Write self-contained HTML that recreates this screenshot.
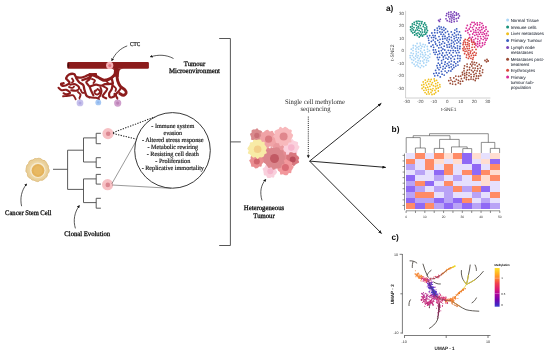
<!DOCTYPE html>
<html><head><meta charset="utf-8"><title>Figure</title>
<style>
html,body{margin:0;padding:0;background:#fff}
svg{display:block;text-rendering:geometricPrecision}
</style></head><body>
<svg width="550" height="356" viewBox="0 0 550 356">
<defs>
<marker id="ah" viewBox="0 0 10 10" refX="9.5" refY="5" markerUnits="userSpaceOnUse" markerWidth="3.6" markerHeight="3" preserveAspectRatio="none" orient="auto-start-reverse"><path d="M0 0L10 5L0 10z" fill="#111"/></marker>
<marker id="ahs" viewBox="0 0 10 10" refX="7" refY="5" markerWidth="4.2" markerHeight="4.2" orient="auto-start-reverse"><path d="M0 0L10 5L0 10z" fill="#111"/></marker>
<linearGradient id="cb" x1="0" y1="0" x2="0" y2="1">
<stop offset="0" stop-color="#ffe32e"/><stop offset="0.14" stop-color="#ffb422"/><stop offset="0.27" stop-color="#ff7e30"/><stop offset="0.4" stop-color="#f0404e"/><stop offset="0.55" stop-color="#dc1a72"/><stop offset="0.67" stop-color="#b0059c"/><stop offset="0.82" stop-color="#7204b0"/><stop offset="0.94" stop-color="#4524c2"/><stop offset="1" stop-color="#4040cc"/>
</linearGradient>
</defs>
<rect width="550" height="356" fill="#fff"/>

<g id="vessel">
<g fill="none" stroke="#8c1c1c" stroke-linecap="round" stroke-linejoin="round">
<path stroke-width="4.2" d="M116.3 68.5C116.3 68.8 116.3 69.8 116.2 70.5C116.1 71.2 115.9 72.2 115.8 72.5"/>
<path stroke-width="3.0" d="M116.2 70.0C116.0 70.6 115.8 72.4 115.3 73.5C114.8 74.6 113.8 75.7 113.0 76.5C112.2 77.3 111.3 78.0 110.2 78.6C109.1 79.2 107.7 79.8 106.5 80.0C105.3 80.2 104.4 80.5 103.0 80.0C101.6 79.5 99.5 78.1 98.0 77.3C96.5 76.5 95.3 75.8 94.0 75.3C92.7 74.8 90.7 74.7 90.0 74.6"/>
<path stroke-width="2.9" d="M116.8 72.0C116.8 72.7 116.8 74.5 117.0 76.0C117.2 77.5 117.2 79.5 117.8 81.2C118.3 82.9 119.1 84.8 120.3 86.2C121.5 87.6 123.8 88.6 124.8 89.7C125.8 90.8 126.5 91.9 126.2 92.8C126.0 93.7 124.4 95.2 123.3 95.3C122.2 95.4 120.4 93.9 119.8 93.6"/>
<path stroke-width="2.2" d="M121.0 88.0C120.6 88.6 119.4 90.4 118.5 91.5C117.6 92.6 116.0 93.4 115.8 94.5C115.6 95.6 117.0 97.7 117.3 98.3"/>
<path stroke-width="2.3" d="M111.7 78.6C111.9 79.4 112.9 82.3 112.7 83.2C112.5 84.1 112.0 83.7 110.7 83.9C109.5 84.1 106.8 83.9 105.2 84.2C103.6 84.5 102.5 85.6 101.0 85.7C99.5 85.8 97.7 84.6 96.0 84.7C94.3 84.8 91.8 86.0 91.0 86.2"/>
<path stroke-width="2.2" d="M112.7 83.2C112.5 84.2 112.3 87.5 111.7 89.2C111.1 90.9 109.5 92.0 109.2 93.3C109.0 94.6 109.4 96.8 110.2 97.3C111.0 97.8 113.5 96.9 114.2 96.3C114.9 95.7 114.5 94.2 114.6 93.8"/>
<path stroke-width="2.1" d="M103.1 86.2C103.8 86.6 106.8 87.7 107.2 88.7C107.6 89.7 106.0 91.0 105.2 92.3C104.4 93.6 102.4 95.3 102.6 96.3C102.8 97.3 105.6 98.0 106.2 98.3"/>
<path stroke-width="2.0" d="M97.5 89.0C97.9 89.3 99.8 90.2 100.0 91.0C100.2 91.8 99.2 93.5 98.5 94.0C97.8 94.5 96.2 94.4 95.5 94.0C94.8 93.6 94.5 92.1 94.6 91.5C94.7 90.9 95.9 90.5 96.2 90.3"/>
<path stroke-width="2.0" d="M90.0 97.3C91.0 97.4 94.5 97.5 96.0 97.8C97.5 98.1 98.5 99.0 99.0 99.3"/>
<path stroke-width="2.0" d="M100.5 87.5C100.7 88.1 101.5 89.7 101.5 91.0C101.5 92.3 100.8 94.4 100.3 95.5C99.8 96.6 98.8 97.2 98.5 97.5"/>
<path stroke-width="2.3" d="M96.0 74.1C94.9 74.2 91.1 74.2 89.3 74.6C87.5 75.0 86.3 76.0 85.0 76.5C83.7 77.0 82.8 77.5 81.3 77.6C79.8 77.7 77.4 77.7 76.2 77.1C75.0 76.5 75.4 74.5 74.2 74.1C73.0 73.7 70.4 73.9 69.1 74.6C67.8 75.3 66.4 77.3 66.1 78.1C65.8 78.9 66.5 78.8 67.1 79.6C67.7 80.4 69.8 81.8 69.6 82.7C69.4 83.6 67.3 84.7 66.1 85.2C64.8 85.7 62.9 86.0 62.1 85.7C61.3 85.5 60.9 84.1 61.1 83.7C61.4 83.3 63.2 83.3 63.6 83.2"/>
<path stroke-width="2.0" d="M58.5 87.7C59.0 88.1 60.3 89.9 61.6 90.2C62.9 90.5 64.7 89.3 66.1 89.7C67.5 90.1 70.1 92.0 70.1 92.8C70.1 93.6 67.2 94.2 66.1 94.3C65.0 94.4 63.9 93.4 63.5 93.2"/>
<path stroke-width="1.9" d="M63.1 96.3C63.9 96.2 66.4 96.0 68.1 95.8C69.8 95.6 71.9 94.7 73.2 95.3C74.5 95.9 75.3 98.6 75.7 99.3"/>
<path stroke-width="2.1" d="M70.1 84.7C70.9 84.6 73.7 83.7 75.2 84.2C76.7 84.7 79.0 86.6 79.2 87.7C79.4 88.8 77.5 90.3 76.2 90.7C74.9 91.1 72.0 90.3 71.2 90.2"/>
<path stroke-width="2.3" d="M76.2 78.1C76.7 78.8 78.0 81.0 79.2 82.2C80.4 83.4 82.5 84.0 83.3 85.2C84.1 86.4 83.8 87.5 84.3 89.2C84.8 90.9 85.5 94.0 86.3 95.3C87.1 96.6 88.8 97.0 89.3 97.3"/>
<path stroke-width="2.2" d="M82.3 80.1C83.3 79.8 86.9 78.8 88.3 78.1C89.7 77.4 90.6 75.8 90.8 76.1C91.0 76.3 90.0 78.6 89.3 79.6C88.5 80.6 86.3 81.1 86.3 82.2C86.3 83.3 88.4 84.7 89.3 86.2C90.2 87.7 90.7 89.8 91.4 91.3C92.1 92.8 93.1 94.6 93.4 95.3"/>
<path stroke-width="1.9" d="M78.0 92.0C78.4 92.4 80.2 93.5 80.5 94.5C80.8 95.5 79.7 97.4 79.5 98.0"/>
<path stroke-width="1.8" d="M72.0 78.5C72.2 78.9 73.5 80.3 73.5 81.0C73.5 81.7 72.2 82.2 72.0 82.5"/>
<path stroke-width="1.9" d="M92.0 79.0C92.5 79.2 94.8 79.8 95.0 80.5C95.2 81.2 93.8 82.6 93.5 83.0"/>
<path stroke-width="1.9" d="M106.0 80.5C106.3 80.9 107.7 82.6 108.0 83.0"/>
<path stroke-width="1.8" d="M69.0 87.0C69.6 87.1 71.7 87.9 72.5 87.8C73.3 87.7 73.8 86.7 74.0 86.5"/>
<path stroke-width="1.8" d="M80.5 89.5C80.8 90.0 81.4 91.9 82.0 92.5C82.6 93.1 83.7 92.9 84.0 93.0"/>
<path stroke-width="1.8" d="M113.5 86.0C113.9 86.4 115.7 87.7 116.0 88.5C116.3 89.3 115.6 90.6 115.5 91.0"/>
<path stroke-width="1.0" d="M79.5 98.0C79.6 98.4 79.8 100.1 79.9 100.5"/>
<path stroke-width="1.0" d="M98.8 98.5C98.8 98.8 98.6 99.9 98.6 100.2"/>
<path stroke-width="1.0" d="M117.3 97.5C117.4 98.0 117.6 100.0 117.7 100.5"/>
</g>
<rect x="67.3" y="61.9" width="81.6" height="6.8" rx="1.2" fill="#8c1c1c"/>
<path d="M110.5 68.5 C113.2 68.7 114.6 70 114.3 72.2 L113.2 76.5 L118.6 77 L119.2 72 C119.3 70 120.8 68.8 123.5 68.5 Z" fill="#8c1c1c"/>
<ellipse cx="68.3" cy="65.35" rx="0.9" ry="2.6" fill="#4a0c0c"/>
<circle cx="109.7" cy="65.4" r="3.6" fill="#f7b3b8"/><circle cx="109.8" cy="65.6" r="1.6" fill="#e27b86"/>
<circle cx="80" cy="102.9" r="3.4" fill="#c6c0ec"/><circle cx="80" cy="102.9" r="1.5" fill="#aea6e0"/>
<circle cx="98.3" cy="102.4" r="2.9" fill="#a6c8f4"/><circle cx="98.3" cy="102.4" r="1.2" fill="#8fb6ed"/>
<circle cx="117.7" cy="103.1" r="3.6" fill="#d0a0cd"/><circle cx="117.7" cy="103.1" r="1.6" fill="#bd83b8"/>
</g>
<text x="135.2" y="46" font-family='"Liberation Serif",serif' font-size="5.9" font-weight="normal" text-anchor="middle" fill="#111" textLength="10.2" lengthAdjust="spacingAndGlyphs" stroke="#111" stroke-width="0.2">CTC</text>
<path d="M127.2 45.9 C120.5 48.3 115 53.5 111.9 60.5" fill="none" stroke="#111" stroke-width="0.7" marker-end="url(#ahs)"/>
<text x="194.5" y="65.5" font-family='"Liberation Serif",serif' font-size="7" font-weight="normal" text-anchor="middle" fill="#111" textLength="21.4" lengthAdjust="spacingAndGlyphs" stroke="#111" stroke-width="0.3">Tumour</text>
<text x="194.5" y="73.2" font-family='"Liberation Serif",serif' font-size="7" font-weight="normal" text-anchor="middle" fill="#111" textLength="51" lengthAdjust="spacingAndGlyphs" stroke="#111" stroke-width="0.3">Microenvironment</text>
<path d="M173.5 58.5 C166 54.5 158 54.5 150.6 56.8" fill="none" stroke="#111" stroke-width="0.7" marker-end="url(#ahs)"/>
<g id="stem">
<polygon points="49.14,169.80 49.20,170.82 48.97,171.82 48.51,172.75 47.79,173.55 47.34,174.39 47.32,175.47 47.03,176.47 46.24,177.14 45.49,177.79 44.84,178.55 44.07,179.18 43.25,179.75 42.37,180.24 41.32,180.28 40.29,180.20 39.42,180.71 38.52,181.41 37.50,181.57 36.49,181.35 35.52,181.04 34.62,180.55 33.72,180.18 32.69,180.12 31.75,179.76 31.10,178.95 30.38,178.29 29.40,177.90 28.56,177.30 27.95,176.49 27.50,175.58 27.40,174.51 27.39,173.48 26.84,172.66 26.08,171.81 25.90,170.82 26.07,169.80 26.15,168.81 26.32,167.83 26.57,166.87 26.71,165.87 27.16,164.98 28.00,164.32 28.58,163.55 28.75,162.46 29.17,161.47 29.97,160.83 30.88,160.34 31.89,160.08 32.89,159.91 33.70,159.36 34.51,158.66 35.51,158.52 36.53,158.66 37.50,158.49 38.51,158.30 39.51,158.39 40.50,158.61 41.39,159.10 42.10,159.93 42.90,160.44 44.02,160.49 45.05,160.80 45.72,161.58 46.28,162.43 46.79,163.30 47.17,164.21 47.73,165.03 48.31,165.86 48.38,166.88 48.27,167.90 48.64,168.83" fill="#e9cf98" stroke="#dbb874" stroke-width="0.9"/>
<circle cx="37.6" cy="170.1" r="9.3" fill="#ecd5a2"/>
<circle cx="37.8" cy="170.3" r="7.8" fill="#f5e9cd"/>
<circle cx="38" cy="170.5" r="6.4" fill="#e4b25a"/>
<circle cx="38" cy="170.5" r="4.4" fill="#e8b963"/>
</g>
<text x="28.2" y="215.2" font-family='"Liberation Serif",serif' font-size="7" font-weight="normal" text-anchor="middle" fill="#111" textLength="46.2" lengthAdjust="spacingAndGlyphs" stroke="#111" stroke-width="0.3">Cancer Stem Cell</text>
<path d="M21.6 206.2 C19.8 198 21.6 190.5 26.4 184.2" fill="none" stroke="#111" stroke-width="0.7" marker-end="url(#ahs)"/>
<text x="87.2" y="235.9" font-family='"Liberation Serif",serif' font-size="7" font-weight="normal" text-anchor="middle" fill="#111" textLength="45.7" lengthAdjust="spacingAndGlyphs" stroke="#111" stroke-width="0.3">Clonal Evolution</text>
<path d="M75.4 228.4 C73 220.5 74.4 212.5 79.2 205.8" fill="none" stroke="#111" stroke-width="0.7" marker-end="url(#ahs)"/>
<path id="tree" fill="none" stroke="#4a4a4a" stroke-width="0.9" d="M53 169.3H67.6 M67.6 150.2V189.4 M67.6 150.2H83.5 M83.5 137.9V162 M83.5 137.9H96.2 M96.2 133.3V143.7 M96.2 133.3H100.9 M96.2 143.7H100.9 M83.5 162H96.2 M96.2 157.7V167.6 M96.2 157.7H100.9 M96.2 167.6H100.9 M67.6 189.4H83.5 M83.5 178.9V202.6 M83.5 178.9H96.2 M96.2 174.4V184.1 M96.2 174.4H100.9 M96.2 184.1H100.9 M83.5 202.6H96.2 M96.2 198.3V208.2 M96.2 198.3H100.9 M96.2 208.2H100.9"/>
<circle cx="108" cy="133.6" r="5.6" fill="#f7c0c4"/><circle cx="108.2" cy="133.79999999999998" r="2.3" fill="#db8690"/>
<circle cx="107.6" cy="184.7" r="5.6" fill="#f7c0c4"/><circle cx="107.8" cy="184.89999999999998" r="2.3" fill="#db8690"/>
<path d="M113 132.6 L154.8 116.9 M113 133.5 L136.4 139.1" fill="none" stroke="#222" stroke-width="1.05" stroke-dasharray="1.3 1.3"/>
<path d="M111.8 183.8 L136.4 140.6 M112.1 185 L171 188.3" fill="none" stroke="#555" stroke-width="0.6"/>
<circle cx="172.5" cy="150.4" r="37.8" fill="#fff" stroke="#222" stroke-width="0.9"/>
<text x="172.8" y="127.8" font-family='"Liberation Serif",serif' font-size="6.5" font-weight="normal" text-anchor="middle" fill="#222" textLength="42.9" lengthAdjust="spacingAndGlyphs" stroke="#222" stroke-width="0.2">- Immune system</text>
<text x="172.8" y="135.1" font-family='"Liberation Serif",serif' font-size="6.5" font-weight="normal" text-anchor="middle" fill="#222" textLength="18.6" lengthAdjust="spacingAndGlyphs" stroke="#222" stroke-width="0.2">evasion</text>
<text x="172.8" y="141.7" font-family='"Liberation Serif",serif' font-size="6.5" font-weight="normal" text-anchor="middle" fill="#222" textLength="61.7" lengthAdjust="spacingAndGlyphs" stroke="#222" stroke-width="0.2">- Altered stress response</text>
<text x="172.8" y="148.79999999999998" font-family='"Liberation Serif",serif' font-size="6.5" font-weight="normal" text-anchor="middle" fill="#222" textLength="50.5" lengthAdjust="spacingAndGlyphs" stroke="#222" stroke-width="0.2">- Metabolic rewiring</text>
<text x="172.8" y="155.6" font-family='"Liberation Serif",serif' font-size="6.5" font-weight="normal" text-anchor="middle" fill="#222" textLength="52.3" lengthAdjust="spacingAndGlyphs" stroke="#222" stroke-width="0.2">- Resisting cell death</text>
<text x="172.8" y="162.7" font-family='"Liberation Serif",serif' font-size="6.5" font-weight="normal" text-anchor="middle" fill="#222" textLength="35" lengthAdjust="spacingAndGlyphs" stroke="#222" stroke-width="0.2">- Proliferation</text>
<text x="172.8" y="169.7" font-family='"Liberation Serif",serif' font-size="6.5" font-weight="normal" text-anchor="middle" fill="#222" textLength="62.3" lengthAdjust="spacingAndGlyphs" stroke="#222" stroke-width="0.2">- Replicative immortality</text>
<path d="M219.2 38.5H230.4V245.5H219.2 M230.4 141.9H240.8" fill="none" stroke="#444" stroke-width="0.9"/>
<g id="tumour">
<polygon points="289.91,148.50 289.49,149.45 288.87,150.28 288.51,151.10 288.11,151.89 287.55,152.57 287.20,153.37 287.05,154.40 286.50,155.17 285.38,155.21 284.27,155.03 283.62,155.50 283.11,156.52 282.35,157.18 281.41,157.19 280.50,157.08 279.60,157.05 278.74,156.76 277.96,156.31 277.05,156.25 275.88,156.50 274.91,156.19 274.59,155.06 274.55,153.86 274.05,153.19 273.16,152.74 272.55,152.04 272.35,151.15 272.19,150.27 272.10,149.38 272.45,148.50 272.92,147.70 272.76,146.85 272.12,145.78 272.06,144.74 272.92,144.12 273.92,143.72 274.43,143.03 274.73,142.10 275.30,141.35 276.05,140.79 276.81,140.20 277.70,139.87 278.74,140.20 279.68,140.72 280.50,140.53 281.41,139.80 282.39,139.62 283.15,140.36 283.73,141.25 284.44,141.68 285.25,141.96 285.98,142.42 286.74,142.88 287.69,143.28 288.37,143.96 288.31,145.02 288.04,146.05 288.46,146.81 289.44,147.56" fill="#ea999e"/>
<circle cx="280.8" cy="148.8" r="3.83" fill="#ea999e"/>
<polygon points="273.35,155.00 273.72,155.81 273.47,156.59 273.01,157.28 272.66,157.97 272.20,158.58 271.58,159.06 271.21,159.69 271.14,160.71 270.82,161.64 269.95,161.85 268.94,161.60 268.19,161.75 267.58,162.41 266.83,162.91 266.00,162.94 265.18,162.82 264.37,162.67 263.68,162.14 263.16,161.38 262.53,161.00 261.56,161.11 260.64,160.96 260.30,160.13 260.35,159.10 260.11,158.40 259.48,157.90 258.94,157.29 258.63,156.57 258.28,155.81 258.03,155.00 258.36,154.20 259.02,153.52 259.22,152.80 258.85,151.82 258.76,150.82 259.46,150.25 260.45,150.01 261.17,149.64 261.71,149.10 262.35,148.68 263.03,148.32 263.65,147.77 264.37,147.35 265.22,147.62 266.00,148.26 266.70,148.35 267.54,147.77 268.47,147.41 269.21,147.79 269.77,148.47 270.39,148.96 271.02,149.42 271.52,150.03 272.08,150.58 272.93,151.00 273.60,151.62 273.49,152.57 272.91,153.53 272.82,154.28" fill="#e3868d"/>
<circle cx="266.3" cy="155.3" r="3.38" fill="#e3868d"/>
<polygon points="289.76,158.50 290.22,159.26 290.10,160.01 289.61,160.65 289.20,161.26 288.81,161.86 288.25,162.32 287.79,162.82 287.64,163.66 287.43,164.60 286.73,164.97 285.78,164.75 285.02,164.71 284.44,165.25 283.77,165.85 283.00,165.97 282.23,165.83 281.47,165.68 280.79,165.31 280.28,164.62 279.76,164.12 278.93,164.10 278.00,164.05 277.55,163.41 277.61,162.42 277.55,161.65 277.03,161.16 276.46,160.62 276.16,159.95 275.92,159.24 275.67,158.50 275.82,157.74 276.40,157.10 276.76,156.47 276.51,155.61 276.28,154.62 276.76,153.97 277.70,153.73 278.47,153.47 278.99,152.98 279.55,152.52 280.20,152.22 280.82,151.80 281.48,151.37 282.26,151.46 283.00,152.07 283.64,152.39 284.38,151.99 285.27,151.53 286.01,151.73 286.53,152.39 287.04,152.94 287.65,153.33 288.17,153.85 288.64,154.40 289.35,154.83 290.08,155.35 290.18,156.17 289.67,157.08 289.38,157.83" fill="#e48c92"/>
<circle cx="283.3" cy="158.8" r="3.15" fill="#e48c92"/>
<polygon points="263.45,135.10 263.33,135.82 262.82,136.44 262.37,137.01 262.03,137.56 261.62,138.06 261.23,138.53 261.04,139.19 260.90,139.99 260.43,140.51 259.59,140.46 258.75,140.16 258.17,140.24 257.71,140.80 257.16,141.35 256.50,141.56 255.82,141.56 255.14,141.51 254.51,141.23 254.04,140.63 253.63,140.08 252.98,139.95 252.06,140.03 251.29,139.80 251.05,139.06 251.18,138.17 251.20,137.46 250.98,136.89 250.77,136.32 250.61,135.72 250.33,135.10 250.01,134.42 250.09,133.74 250.75,133.23 251.47,132.86 251.71,132.33 251.54,131.50 251.55,130.64 251.98,130.08 252.63,129.77 253.28,129.51 253.94,129.34 254.64,129.38 255.29,129.41 255.86,129.05 256.50,128.44 257.22,128.25 257.84,128.78 258.29,129.60 258.74,130.07 259.35,130.17 260.01,130.26 260.61,130.54 261.19,130.87 261.79,131.26 262.12,131.85 262.01,132.64 261.84,133.37 262.15,133.90 262.91,134.43" fill="#d98a8d"/>
<circle cx="256.8" cy="135.4" r="2.60" fill="#c96f76"/>
<polygon points="276.72,170.90 277.10,171.65 276.96,172.38 276.57,173.03 276.21,173.67 275.80,174.25 275.18,174.67 274.62,175.06 274.39,175.78 274.29,176.80 273.84,177.56 273.00,177.64 272.10,177.37 271.37,177.35 270.71,177.67 270.00,177.94 269.26,177.97 268.50,177.96 267.71,177.94 267.03,177.56 266.65,176.70 266.41,175.84 265.88,175.47 264.98,175.42 264.14,175.15 263.80,174.48 263.76,173.68 263.66,172.96 263.48,172.29 263.45,171.59 263.43,170.90 263.10,170.17 262.61,169.33 262.60,168.49 263.32,167.92 264.25,167.58 264.78,167.11 264.96,166.36 265.24,165.62 265.80,165.13 266.46,164.77 267.12,164.43 267.86,164.32 268.66,164.60 269.37,164.89 270.00,164.64 270.73,163.97 271.55,163.61 272.25,163.97 272.78,164.66 273.32,165.15 273.97,165.44 274.58,165.81 275.14,166.27 275.82,166.67 276.59,167.10 276.98,167.79 276.71,168.72 276.23,169.58 276.23,170.25" fill="#f9cfdc"/>
<circle cx="270.3" cy="171.20000000000002" r="3.00" fill="#f5b6cc"/>
<polygon points="299.46,147.30 298.96,148.14 298.54,148.90 298.16,149.63 297.64,150.26 297.32,150.95 297.35,151.91 297.19,152.87 296.35,153.24 295.21,153.09 294.45,153.27 294.04,154.13 293.51,155.02 292.72,155.37 291.85,155.39 291.00,155.39 290.17,155.15 289.44,154.65 288.68,154.45 287.67,154.77 286.63,154.88 286.06,154.10 285.98,152.87 285.74,152.04 285.02,151.64 284.28,151.18 283.85,150.49 283.52,149.73 283.27,148.94 283.43,148.10 283.93,147.30 283.98,146.56 283.32,145.67 282.81,144.64 283.25,143.85 284.24,143.40 284.94,142.89 285.26,142.13 285.67,141.38 286.26,140.78 286.86,140.13 287.58,139.61 288.54,139.72 289.51,140.29 290.28,140.41 291.00,139.72 291.86,139.10 292.69,139.35 293.33,140.13 293.96,140.66 294.68,140.93 295.38,141.27 296.12,141.62 297.07,141.83 297.95,142.25 298.16,143.17 297.83,144.26 297.90,145.06 298.71,145.66 299.47,146.41" fill="#fbd1dd"/>
<circle cx="291.3" cy="147.60000000000002" r="3.30" fill="#f7b6cc"/>
<polygon points="263.88,161.10 263.48,161.83 263.13,162.51 262.80,163.15 262.33,163.70 261.88,164.20 261.74,164.90 261.74,165.82 261.38,166.52 260.55,166.67 259.64,166.53 259.00,166.70 258.51,167.30 257.94,167.87 257.24,168.15 256.50,168.29 255.73,168.39 254.99,168.20 254.41,167.55 253.93,166.88 253.28,166.68 252.35,166.81 251.51,166.64 251.14,165.93 251.10,165.03 250.97,164.29 250.69,163.69 250.46,163.06 250.28,162.42 249.88,161.80 249.34,161.10 249.22,160.33 249.78,159.67 250.51,159.15 250.77,158.55 250.62,157.70 250.61,156.82 251.04,156.18 251.67,155.73 252.30,155.32 253.01,155.05 253.83,155.09 254.57,155.17 255.16,154.81 255.76,154.10 256.50,153.74 257.23,154.13 257.83,154.85 258.40,155.25 259.07,155.32 259.78,155.42 260.43,155.68 261.15,155.94 261.93,156.21 262.45,156.78 262.45,157.66 262.30,158.52 262.59,159.12 263.35,159.64 263.92,160.32" fill="#e98d90"/>
<circle cx="256.8" cy="161.4" r="3.00" fill="#d0656c"/>
<polygon points="298.89,159.10 298.40,159.73 298.37,160.37 298.85,161.19 299.16,162.11 298.80,162.80 297.99,163.16 297.23,163.45 296.68,163.85 296.13,164.24 295.55,164.56 295.04,165.03 294.54,165.68 293.88,166.05 293.10,165.73 292.40,165.05 291.80,164.76 291.13,165.08 290.33,165.48 289.57,165.45 288.94,165.09 288.35,164.67 287.84,164.16 287.57,163.45 287.39,162.74 286.91,162.27 286.02,161.94 285.29,161.41 285.30,160.61 285.85,159.79 286.28,159.10 286.31,158.46 286.25,157.79 286.32,157.13 286.41,156.43 286.46,155.67 286.78,155.02 287.56,154.74 288.45,154.71 288.97,154.38 289.18,153.53 289.51,152.61 290.15,152.19 290.94,152.23 291.69,152.35 292.40,152.44 293.08,152.68 293.70,152.96 294.40,152.96 295.25,152.70 296.07,152.75 296.49,153.47 296.55,154.49 296.71,155.22 297.25,155.58 297.94,155.90 298.44,156.41 298.79,157.02 299.12,157.67 299.23,158.38" fill="#d8777e"/>
<circle cx="292.7" cy="159.4" r="3.00" fill="#b94c5a"/>
<polygon points="276.25,138.90 276.70,139.78 277.37,140.83 277.23,141.80 276.36,142.49 275.53,143.07 274.93,143.72 274.28,144.29 273.66,144.85 273.28,145.75 272.84,146.77 271.96,147.11 270.82,146.64 269.89,146.36 269.15,146.98 268.30,147.89 267.33,148.13 266.41,147.77 265.55,147.36 264.74,146.89 264.09,146.19 263.45,145.58 262.43,145.42 261.26,145.24 260.74,144.39 261.05,143.09 261.28,142.02 260.77,141.35 259.99,140.67 259.65,139.81 259.65,138.90 259.68,137.99 259.98,137.13 260.67,136.42 261.14,135.71 260.92,134.64 260.64,133.33 261.19,132.50 262.41,132.36 263.46,132.24 264.11,131.64 264.73,130.89 265.55,130.43 266.43,130.11 267.35,129.84 268.30,130.09 269.14,130.94 269.87,131.52 270.80,131.20 271.96,130.69 272.86,131.01 273.28,132.04 273.66,132.95 274.33,133.47 275.07,133.98 275.71,134.62 276.48,135.26 277.28,135.98 277.39,136.97 276.72,138.02" fill="#f0a3a6"/>
<circle cx="268.6" cy="139.20000000000002" r="3.60" fill="#da7a80"/>
<polygon points="292.85,136.30 292.44,137.26 292.01,138.15 291.41,138.93 291.17,139.80 291.49,141.03 291.37,142.16 290.20,142.51 288.89,142.51 288.34,143.24 288.08,144.58 287.37,145.45 286.32,145.61 285.29,145.66 284.28,145.63 283.30,145.35 282.35,145.38 281.24,146.01 280.10,146.14 279.43,145.00 279.08,143.60 278.31,143.17 277.06,143.23 276.14,142.75 275.76,141.78 275.47,140.82 275.21,139.90 275.14,138.95 274.73,138.12 273.67,137.31 273.03,136.30 273.75,135.30 274.82,134.50 274.87,133.56 274.35,132.32 274.50,131.22 275.34,130.52 276.23,129.93 277.12,129.44 278.12,129.17 278.88,128.64 279.39,127.53 280.20,126.77 281.38,127.27 282.44,128.14 283.30,127.96 284.27,127.08 285.31,126.82 286.22,127.30 287.07,127.82 287.88,128.37 288.53,129.10 289.38,129.55 290.72,129.62 291.79,130.13 291.75,131.42 291.27,132.75 291.68,133.58 292.73,134.30 293.17,135.26" fill="#f8b9bc"/>
<circle cx="283.6" cy="136.60000000000002" r="4.00" fill="#e0878d"/>
<polygon points="293.61,167.20 293.11,168.04 292.66,168.81 292.29,169.54 291.79,170.18 291.42,170.85 291.41,171.78 291.28,172.76 290.48,173.18 289.34,173.03 288.53,173.14 288.10,173.95 287.59,174.88 286.81,175.27 285.95,175.28 285.10,175.27 284.27,175.07 283.53,174.58 282.78,174.33 281.80,174.62 280.73,174.77 280.11,174.06 280.02,172.84 279.83,171.95 279.14,171.53 278.37,171.08 277.93,170.39 277.63,169.63 277.38,168.84 277.50,168.00 278.00,167.20 278.13,166.47 277.52,165.59 276.96,164.56 277.33,163.74 278.31,163.28 279.05,162.81 279.39,162.06 279.77,161.28 280.35,160.67 280.97,160.04 281.67,159.50 282.61,159.54 283.59,160.11 284.38,160.31 285.10,159.68 285.96,159.01 286.80,159.20 287.44,159.99 288.05,160.58 288.76,160.85 289.47,161.18 290.19,161.55 291.11,161.78 292.02,162.17 292.30,163.04 291.98,164.14 291.97,164.97 292.74,165.58 293.56,166.31" fill="#f2989c"/>
<circle cx="285.40000000000003" cy="167.5" r="3.50" fill="#da6c76"/>
<polygon points="284.95,158.20 284.55,159.29 283.80,160.24 283.93,161.36 284.68,162.87 284.26,164.01 282.68,164.36 281.71,164.96 281.57,166.39 281.05,167.63 279.91,168.09 278.74,168.39 277.58,168.59 276.37,168.42 275.30,168.70 274.20,169.64 273.00,169.66 272.07,168.23 271.25,167.28 269.97,167.69 268.60,167.89 267.81,166.99 267.25,165.92 266.49,165.14 265.83,164.28 265.05,163.48 263.77,162.84 263.01,161.84 263.63,160.45 264.17,159.25 263.27,158.20 262.33,156.95 262.91,155.80 264.05,154.90 264.60,153.93 265.02,152.90 265.61,151.96 266.03,150.84 266.71,149.88 268.13,149.85 269.45,149.98 270.05,148.87 270.67,147.34 271.87,147.22 273.12,147.97 274.20,147.96 275.33,147.44 276.51,147.33 277.71,147.39 278.91,147.61 279.71,148.66 280.21,149.93 281.37,150.24 283.00,150.28 283.61,151.37 283.16,153.03 283.29,154.15 284.25,154.93 284.83,155.94 284.90,157.08" fill="#db868c"/>
<circle cx="274.5" cy="158.5" r="4.50" fill="#c25a64"/>
<polygon points="266.64,149.00 265.92,149.91 265.85,150.82 266.67,152.05 266.75,153.21 265.54,153.76 264.48,154.22 264.22,155.23 263.86,156.28 263.03,156.89 262.13,157.36 261.13,157.61 260.01,157.35 259.09,157.42 258.29,158.39 257.30,158.91 256.35,158.00 255.59,157.05 254.61,157.28 253.44,157.68 252.53,157.27 251.81,156.56 251.07,155.92 250.55,155.08 249.98,154.32 248.81,153.90 247.81,153.23 248.09,151.99 248.77,150.81 248.30,149.95 247.39,149.00 247.51,147.97 248.27,147.08 248.77,146.23 249.22,145.40 249.72,144.63 249.85,143.59 250.06,142.48 251.13,142.15 252.41,142.28 252.98,141.52 253.32,140.07 254.21,139.49 255.36,139.85 256.35,139.94 257.30,139.66 258.29,139.59 259.32,139.48 260.43,139.38 261.24,140.15 261.65,141.46 262.44,141.93 263.82,141.76 264.68,142.35 264.60,143.70 264.65,144.75 265.35,145.42 265.96,146.19 266.33,147.08 266.75,148.01" fill="#f8eba6"/>
<circle cx="257.6" cy="149.3" r="3.80" fill="#f3cf8a"/>
</g>
<text x="264" y="210.3" font-family='"Liberation Serif",serif' font-size="7" font-weight="normal" text-anchor="middle" fill="#111" textLength="40.4" lengthAdjust="spacingAndGlyphs" stroke="#111" stroke-width="0.3">Heterogeneous</text>
<text x="264" y="217.9" font-family='"Liberation Serif",serif' font-size="7" font-weight="normal" text-anchor="middle" fill="#111" textLength="21.4" lengthAdjust="spacingAndGlyphs" stroke="#111" stroke-width="0.3">Tumour</text>
<path d="M262 200.4 C259.5 192 261 185 265.6 179.6" fill="none" stroke="#111" stroke-width="0.7" marker-end="url(#ahs)"/>
<text x="315" y="103.8" font-family='"Liberation Serif",serif' font-size="6.9" font-weight="normal" text-anchor="middle" fill="#2c2c2c" textLength="60" lengthAdjust="spacingAndGlyphs">Single cell methylome</text>
<text x="315.5" y="111.3" font-family='"Liberation Serif",serif' font-size="6.9" font-weight="normal" text-anchor="middle" fill="#2c2c2c" textLength="30" lengthAdjust="spacingAndGlyphs">sequencing</text>
<path d="M308.3 116.6 V155.5" fill="none" stroke="#222" stroke-width="1" stroke-dasharray="1 1.1"/>
<path d="M306.8 155.3 L308.3 158.2 L309.8 155.3z" fill="#111"/>
<path d="M309.6 161.1 L381.3 103.3" fill="none" stroke="#111" stroke-width="0.9" marker-end="url(#ah)"/>
<path d="M309.6 161.1 L385.8 167.4" fill="none" stroke="#111" stroke-width="0.9" marker-end="url(#ah)"/>
<path d="M309.6 161.1 L381.6 233.5" fill="none" stroke="#111" stroke-width="0.9" marker-end="url(#ah)"/>
<text x="385.9" y="11.2" font-family='"Liberation Sans",sans-serif' font-size="8.4" font-weight="bold" text-anchor="start" fill="#111">a)</text>
<path d="M405.6 10.8 V98 H490.4" fill="none" stroke="#c4c4c4" stroke-width="0.8"/>
<text x="404.1" y="14.600000000000005" font-family='"Liberation Sans",sans-serif' font-size="4.5" font-weight="normal" text-anchor="end" fill="#484848">30</text>
<text x="487.86" y="103.1" font-family='"Liberation Sans",sans-serif' font-size="4.5" font-weight="normal" text-anchor="middle" fill="#484848">30</text>
<text x="404.1" y="27.150000000000006" font-family='"Liberation Sans",sans-serif' font-size="4.5" font-weight="normal" text-anchor="end" fill="#484848">20</text>
<text x="474.34000000000003" y="103.1" font-family='"Liberation Sans",sans-serif' font-size="4.5" font-weight="normal" text-anchor="middle" fill="#484848">20</text>
<text x="404.1" y="39.7" font-family='"Liberation Sans",sans-serif' font-size="4.5" font-weight="normal" text-anchor="end" fill="#484848">10</text>
<text x="460.82" y="103.1" font-family='"Liberation Sans",sans-serif' font-size="4.5" font-weight="normal" text-anchor="middle" fill="#484848">10</text>
<text x="404.1" y="52.25" font-family='"Liberation Sans",sans-serif' font-size="4.5" font-weight="normal" text-anchor="end" fill="#484848">0</text>
<text x="447.3" y="103.1" font-family='"Liberation Sans",sans-serif' font-size="4.5" font-weight="normal" text-anchor="middle" fill="#484848">0</text>
<text x="404.1" y="64.8" font-family='"Liberation Sans",sans-serif' font-size="4.5" font-weight="normal" text-anchor="end" fill="#484848">-10</text>
<text x="433.78000000000003" y="103.1" font-family='"Liberation Sans",sans-serif' font-size="4.5" font-weight="normal" text-anchor="middle" fill="#484848">-10</text>
<text x="404.1" y="77.35" font-family='"Liberation Sans",sans-serif' font-size="4.5" font-weight="normal" text-anchor="end" fill="#484848">-20</text>
<text x="420.26" y="103.1" font-family='"Liberation Sans",sans-serif' font-size="4.5" font-weight="normal" text-anchor="middle" fill="#484848">-20</text>
<text x="404.1" y="89.89999999999999" font-family='"Liberation Sans",sans-serif' font-size="4.5" font-weight="normal" text-anchor="end" fill="#484848">-30</text>
<text x="406.74" y="103.1" font-family='"Liberation Sans",sans-serif' font-size="4.5" font-weight="normal" text-anchor="middle" fill="#484848">-30</text>
<text x="448.7" y="110.6" font-family='"Liberation Sans",sans-serif' font-size="4.8" font-weight="normal" text-anchor="middle" fill="#383838">t-SNE1</text>
<text transform="translate(394 52.6) rotate(-90)" font-family='"Liberation Sans",sans-serif' font-size="5" text-anchor="middle" fill="#383838">t-SNE2</text>
<path d="M423.6 24.7h0M418.9 28.1h0M421.7 34.1h0M424.9 27.8h0M418.0 32.9h0M410.6 29.7h0M426.7 26.9h0M414.0 27.6h0M414.3 24.3h0M424.9 30.0h0M421.5 23.5h0M412.3 26.1h0M424.8 32.0h0M415.5 30.5h0M419.1 30.6h0M413.2 29.9h0M422.6 32.1h0M416.8 27.9h0M427.5 30.6h0M417.1 23.2h0M419.2 37.0h0M424.0 34.6h0M421.0 28.3h0M414.7 35.0h0M422.0 21.7h0M416.3 21.4h0M410.6 27.0h0M419.2 23.9h0M412.8 32.9h0M422.1 29.8h0M416.2 25.3h0M419.9 21.4h0M411.5 31.4h0M414.6 32.2h0M420.3 25.7h0M420.7 35.7h0M417.3 35.4h0M425.8 24.9h0M423.3 26.6h0M420.6 31.9h0M418.2 26.4h0M425.7 34.0h0M424.7 23.0h0M426.6 28.9h0M419.6 34.2h0M426.7 32.4h0M414.2 22.3h0M416.3 33.7h0M422.6 36.0h0M417.3 29.8h0M412.4 23.9h0M412.1 28.3h0M418.1 21.1h0" fill="none" stroke="#17917a" stroke-width="1.8" stroke-linecap="round"/>
<path d="M428.5 60.9h0M424.3 50.2h0M422.7 57.7h0M422.0 46.4h0M418.3 52.3h0M418.6 49.2h0M417.0 64.9h0M420.6 56.5h0M415.6 45.8h0M420.3 67.6h0M424.4 47.0h0M425.9 65.2h0M426.6 62.3h0M420.0 63.4h0M430.1 54.0h0M421.7 65.6h0M425.6 54.7h0M413.0 50.6h0M423.1 44.3h0M410.1 55.6h0M418.1 60.5h0M411.7 59.4h0M417.1 43.5h0M422.9 61.1h0M422.1 52.3h0M413.3 53.6h0M413.7 57.3h0M418.1 55.7h0M413.2 47.9h0M420.5 54.1h0M427.6 51.6h0M423.6 66.6h0M416.4 53.9h0M427.5 49.2h0M411.1 52.9h0M424.3 59.6h0M425.1 52.6h0M423.8 63.0h0M425.8 57.7h0M412.2 62.7h0M415.8 49.1h0M420.1 43.1h0M415.2 58.8h0M418.9 46.6h0M427.8 58.3h0M416.2 51.5h0M421.1 48.4h0M415.9 61.8h0M428.1 55.6h0M415.8 56.0h0M427.3 46.5h0M418.4 66.4h0M413.6 60.3h0M411.3 49.2h0M419.3 58.5h0M420.4 61.0h0M422.7 54.5h0M414.1 64.2h0M429.7 57.1h0M426.6 60.1h0M410.3 57.7h0M429.5 50.7h0M415.2 66.1h0M420.6 50.9h0M425.3 44.8h0M417.2 57.6h0M417.0 47.4h0M417.8 62.8h0M413.3 45.5h0M412.3 55.6h0M420.4 45.1h0M424.1 56.1h0" fill="none" stroke="#a9d5f6" stroke-width="1.8" stroke-linecap="round"/>
<path d="M435.1 54.3h0M439.6 57.3h0M435.8 38.5h0M455.4 50.8h0M448.7 34.2h0M448.6 70.8h0M444.8 64.3h0M452.8 56.6h0M437.2 28.1h0M440.4 67.3h0M442.1 74.2h0M456.9 31.5h0M431.6 37.6h0M459.8 48.7h0M448.3 41.9h0M444.2 46.2h0M446.9 72.6h0M457.8 55.5h0M451.3 37.3h0M455.3 55.8h0M441.0 34.2h0M437.0 65.7h0M456.7 28.8h0M451.4 43.4h0M437.5 30.4h0M433.7 47.3h0M437.7 75.4h0M457.5 45.8h0M442.7 53.0h0M448.9 56.9h0M446.0 58.1h0M459.0 52.4h0M441.7 63.2h0M435.1 41.9h0M448.3 50.3h0M451.0 64.1h0M435.5 49.8h0M439.4 42.4h0M437.2 45.7h0M454.3 38.7h0M456.1 35.1h0M438.4 59.7h0M434.7 32.7h0M445.0 36.2h0M454.4 59.2h0M454.4 44.1h0M431.4 41.4h0M438.8 47.8h0M441.3 47.4h0M458.3 34.5h0M458.5 37.8h0M452.3 69.2h0M449.5 53.0h0M434.7 30.0h0M457.7 61.9h0M435.6 70.4h0M443.2 66.4h0M439.0 36.6h0M445.2 68.2h0M428.7 40.3h0M441.4 50.6h0M446.9 44.9h0M451.3 45.9h0M429.7 35.6h0M442.7 39.0h0M445.2 62.0h0M441.5 71.4h0M453.1 52.6h0M451.3 31.9h0M429.1 43.0h0M435.2 35.7h0M452.4 34.7h0M443.4 59.3h0M433.3 40.1h0M446.9 40.1h0M432.9 44.9h0M443.3 57.0h0M442.9 69.1h0M445.5 32.6h0M453.3 65.1h0M449.2 67.6h0M459.7 60.8h0M451.4 61.1h0M438.3 63.2h0M447.3 54.8h0M439.0 69.7h0M444.9 55.5h0M447.4 63.6h0M444.8 50.0h0M439.6 53.5h0M447.3 37.9h0M442.6 36.5h0M451.7 40.5h0M458.7 41.8h0M437.4 57.5h0M443.6 34.3h0M459.5 31.9h0M434.8 75.8h0M447.9 59.2h0M442.2 32.2h0M438.8 51.2h0M452.0 48.1h0M453.2 50.3h0M441.7 43.8h0M457.8 50.3h0M437.8 40.3h0M445.6 28.9h0M440.3 76.9h0M431.9 33.0h0M439.0 73.2h0M445.1 71.1h0M455.8 66.1h0M442.0 29.4h0M433.9 52.3h0M456.5 52.8h0M446.4 52.5h0M444.2 75.1h0M455.8 63.6h0M439.7 28.7h0M453.7 46.4h0M444.6 43.2h0M451.2 55.1h0M455.2 48.0h0M454.9 30.1h0M433.8 73.6h0M439.8 44.9h0M439.9 32.0h0M455.2 40.8h0M447.2 47.1h0M460.2 40.1h0M437.4 32.8h0M441.6 60.7h0M460.0 55.9h0M440.1 39.3h0M450.9 58.5h0M441.9 55.2h0M436.3 73.0h0M449.4 39.5h0M454.5 33.0h0M457.7 58.4h0M439.8 65.0h0M427.3 36.1h0M457.3 40.0h0M437.7 54.6h0M449.3 44.4h0M458.0 65.1h0M454.2 62.0h0M449.4 47.2h0M431.1 46.4h0M460.4 43.4h0M449.1 62.1h0M437.6 67.9h0M435.7 44.0h0M460.6 35.4h0M446.5 66.1h0M460.1 58.5h0M436.2 52.2h0M456.9 43.1h0M442.9 41.6h0M450.6 50.6h0M447.6 31.4h0M433.3 49.9h0M453.9 67.5h0M454.0 36.3h0M451.3 66.8h0M441.2 27.1h0M450.9 71.0h0M442.9 49.0h0M432.9 35.3h0M443.7 27.5h0M428.4 38.1h0M444.0 30.4h0M460.0 46.5h0M445.0 38.5h0M453.4 42.1h0M448.7 65.4h0M456.3 37.3h0M433.8 37.4h0M457.4 48.1h0M460.9 37.7h0M449.0 36.5h0M439.0 26.5h0" fill="none" stroke="#3c5fc0" stroke-width="1.8" stroke-linecap="round"/>
<path d="M451.0 12.0h0M446.3 15.6h0M456.3 13.0h0M453.0 13.8h0M449.8 18.8h0M454.0 19.5h0M458.4 18.0h0M452.6 15.8h0M446.0 18.8h0M456.3 18.7h0M448.7 14.6h0M454.2 21.6h0M456.6 15.0h0M459.4 15.9h0M457.0 21.1h0M448.7 16.8h0M451.5 22.2h0M454.3 12.0h0M454.0 17.4h0M447.2 20.7h0M450.7 16.5h0M458.4 13.9h0M451.6 20.1h0M448.7 12.5h0M449.5 21.4h0M452.0 18.0h0M451.0 14.4h0M454.6 15.3h0M446.8 13.6h0M438.6 20.3h0M440.3 19.3h0M439.5 21.4h0" fill="none" stroke="#7b45b8" stroke-width="1.8" stroke-linecap="round"/>
<path d="M479.8 40.8h0M482.5 45.5h0M487.2 38.4h0M476.3 27.9h0M478.0 36.4h0M483.1 25.6h0M479.7 24.8h0M470.3 27.1h0M477.9 39.1h0M486.1 29.3h0M473.8 25.8h0M472.4 37.2h0M473.3 29.6h0M484.3 34.0h0M472.8 34.0h0M477.6 41.7h0M467.6 30.4h0M479.5 45.4h0M478.0 29.6h0M467.3 25.4h0M488.2 35.4h0M476.0 32.5h0M468.0 32.8h0M473.8 41.9h0M483.3 39.6h0M473.9 39.8h0M480.4 36.6h0M471.3 39.0h0M482.5 43.0h0M483.4 36.6h0M480.8 32.4h0M475.6 38.4h0M480.0 22.6h0M474.1 22.4h0M487.9 31.4h0M483.5 27.9h0M466.3 28.1h0M476.0 45.3h0M485.9 35.7h0M479.3 34.2h0M477.4 25.0h0M470.9 31.2h0M479.2 27.7h0M470.6 24.5h0M469.2 29.0h0M469.6 34.7h0M474.8 35.3h0M486.5 33.5h0M477.7 46.7h0M481.9 29.5h0M482.0 23.4h0M485.9 27.0h0M484.6 44.3h0M477.2 22.9h0M471.6 41.1h0M486.0 40.2h0M479.8 43.2h0M481.4 27.1h0M484.8 31.0h0M482.1 34.3h0M472.0 22.4h0M481.0 47.1h0M475.6 30.4h0M485.1 42.3h0M469.8 37.4h0M481.1 38.7h0M480.0 30.5h0M472.4 27.6h0M477.6 43.9h0M475.5 43.3h0M485.0 38.2h0M473.9 32.2h0M476.8 34.6h0M475.2 24.2h0M478.2 32.3h0M483.1 32.3h0M465.6 31.1h0" fill="none" stroke="#d82a95" stroke-width="1.8" stroke-linecap="round"/>
<path d="M469.2 43.8h0M468.8 54.7h0M466.7 54.9h0M474.6 47.1h0M470.3 53.0h0M476.2 53.1h0M472.5 44.4h0M472.7 53.4h0M471.5 40.0h0M465.4 42.3h0M469.1 41.0h0M466.8 46.6h0M473.2 57.6h0M476.0 49.4h0M467.5 39.9h0M468.4 58.4h0M464.1 47.0h0M467.3 48.7h0M472.0 47.3h0M469.3 48.3h0M473.8 55.4h0M464.6 53.7h0M472.5 49.8h0M463.4 50.4h0M474.3 52.2h0M470.9 58.3h0M466.9 51.1h0M464.0 40.9h0M469.2 46.0h0M463.1 44.7h0M474.8 44.2h0M472.0 42.2h0M468.7 38.3h0M470.8 51.1h0M466.4 57.3h0M462.9 48.6h0M469.4 56.6h0M468.0 52.9h0M465.1 49.0h0M467.6 42.6h0M465.5 44.5h0M471.4 55.5h0M468.9 50.4h0M465.2 39.4h0M465.1 51.4h0M472.7 59.4h0M475.7 55.2h0M463.4 42.8h0M467.5 44.6h0M473.9 42.4h0" fill="none" stroke="#d8483c" stroke-width="1.8" stroke-linecap="round"/>
<path d="M472.0 62.0h0M467.4 70.2h0M480.3 68.1h0M458.3 82.9h0M471.6 70.4h0M473.2 72.0h0M458.6 76.4h0M464.1 68.4h0M455.8 76.1h0M475.2 68.1h0M462.7 81.2h0M476.6 76.0h0M473.8 76.6h0M469.2 72.8h0M461.4 78.7h0M469.6 67.4h0M466.6 77.3h0M470.6 64.2h0M464.6 73.5h0M479.2 64.5h0M467.1 64.1h0M452.7 81.6h0M456.4 79.4h0M479.6 73.4h0M476.0 73.4h0M475.0 64.8h0M482.5 72.4h0M471.0 74.3h0M468.8 79.6h0M467.1 66.7h0M448.8 80.7h0M476.0 78.4h0M473.3 79.4h0M450.2 83.4h0M471.0 79.1h0M473.0 68.1h0M462.6 74.7h0M454.9 81.3h0M478.3 78.3h0M477.4 66.2h0M480.9 75.5h0M460.4 81.4h0M450.4 77.8h0M453.8 77.9h0M477.1 70.9h0M464.8 75.7h0M476.5 62.8h0M471.8 65.9h0M458.4 80.4h0M452.6 84.1h0M460.7 76.1h0M464.6 65.8h0M466.7 74.5h0M471.2 76.9h0M464.0 70.8h0M451.0 80.1h0M479.8 71.0h0M482.7 69.8h0M464.4 77.9h0M455.6 84.4h0M466.6 72.3h0M477.8 68.7h0M469.0 75.7h0M474.1 74.5h0M481.3 65.9h0M478.8 76.0h0M460.4 83.8h0M474.3 62.3h0M474.7 70.3h0M469.5 69.6h0M466.4 79.5h0M462.4 72.5h0M475.2 80.5h0M472.9 64.1h0M485.0 60.5h0M487.0 59.5h0M486.5 61.8h0M488.2 61.0h0" fill="none" stroke="#9a4a35" stroke-width="1.8" stroke-linecap="round"/>
<path d="M423.9 90.3h0M423.2 81.9h0M433.4 85.7h0M429.9 86.4h0M425.1 92.6h0M429.1 93.9h0M428.6 79.4h0M428.5 89.5h0M430.8 89.3h0M438.2 88.0h0M432.3 90.7h0M437.8 82.6h0M425.2 80.1h0M426.5 85.1h0M435.7 83.6h0M432.4 82.6h0M423.6 86.9h0M428.8 83.9h0M434.9 90.3h0M435.5 86.5h0M434.6 81.0h0M438.3 91.0h0M425.7 82.8h0M434.2 78.9h0M431.2 79.4h0M432.0 94.5h0M435.7 92.5h0M437.4 85.5h0M426.3 90.1h0M434.2 94.0h0M433.0 88.6h0M430.2 81.4h0M423.8 84.4h0M426.7 94.1h0M428.3 92.0h0M439.8 84.7h0M422.1 88.5h0M431.5 84.5h0M425.6 88.0h0M436.6 80.3h0M427.7 87.2h0M427.5 81.4h0M421.8 85.1h0M431.0 92.4h0M436.2 88.7h0M440.0 86.8h0" fill="none" stroke="#f0c020" stroke-width="1.8" stroke-linecap="round"/>
<circle cx="507.6" cy="20.1" r="1.5" fill="#a9d5f6"/>
<text x="510.7" y="21.650000000000002" font-family='"Liberation Sans",sans-serif' font-size="4.4" font-weight="normal" text-anchor="start" fill="#2c323e" stroke="#2c323e" stroke-width="0.05">Normal Tissue</text>
<circle cx="507.6" cy="27.0" r="1.5" fill="#17917a"/>
<text x="510.7" y="28.55" font-family='"Liberation Sans",sans-serif' font-size="4.4" font-weight="normal" text-anchor="start" fill="#2c323e" stroke="#2c323e" stroke-width="0.05">Immune cells</text>
<circle cx="507.6" cy="33.8" r="1.5" fill="#f0c020"/>
<text x="510.7" y="35.349999999999994" font-family='"Liberation Sans",sans-serif' font-size="4.4" font-weight="normal" text-anchor="start" fill="#2c323e" stroke="#2c323e" stroke-width="0.05">Liver metastases</text>
<circle cx="507.6" cy="40.6" r="1.5" fill="#3c5fc0"/>
<text x="510.7" y="42.15" font-family='"Liberation Sans",sans-serif' font-size="4.4" font-weight="normal" text-anchor="start" fill="#2c323e" stroke="#2c323e" stroke-width="0.05">Primary Tumour</text>
<circle cx="507.6" cy="47.4" r="1.5" fill="#7b45b8"/>
<text x="510.7" y="48.949999999999996" font-family='"Liberation Sans",sans-serif' font-size="4.4" font-weight="normal" text-anchor="start" fill="#2c323e" stroke="#2c323e" stroke-width="0.05">Lymph node</text>
<text x="510.7" y="54.05" font-family='"Liberation Sans",sans-serif' font-size="4.4" font-weight="normal" text-anchor="start" fill="#2c323e" stroke="#2c323e" stroke-width="0.05">metastases</text>
<circle cx="507.6" cy="59.3" r="1.5" fill="#9a4a35"/>
<text x="510.7" y="60.849999999999994" font-family='"Liberation Sans",sans-serif' font-size="4.4" font-weight="normal" text-anchor="start" fill="#2c323e" stroke="#2c323e" stroke-width="0.05">Metastases post-</text>
<text x="510.7" y="65.94999999999999" font-family='"Liberation Sans",sans-serif' font-size="4.4" font-weight="normal" text-anchor="start" fill="#2c323e" stroke="#2c323e" stroke-width="0.05">treatment</text>
<circle cx="507.6" cy="70.3" r="1.5" fill="#d8483c"/>
<text x="510.7" y="71.85" font-family='"Liberation Sans",sans-serif' font-size="4.4" font-weight="normal" text-anchor="start" fill="#2c323e" stroke="#2c323e" stroke-width="0.05">Erythrocytes</text>
<circle cx="507.6" cy="77.1" r="1.5" fill="#d82a95"/>
<text x="510.7" y="78.64999999999999" font-family='"Liberation Sans",sans-serif' font-size="4.4" font-weight="normal" text-anchor="start" fill="#2c323e" stroke="#2c323e" stroke-width="0.05">Primary</text>
<text x="510.7" y="83.74999999999999" font-family='"Liberation Sans",sans-serif' font-size="4.4" font-weight="normal" text-anchor="start" fill="#2c323e" stroke="#2c323e" stroke-width="0.05">tumour sub-</text>
<text x="510.7" y="88.85" font-family='"Liberation Sans",sans-serif' font-size="4.4" font-weight="normal" text-anchor="start" fill="#2c323e" stroke="#2c323e" stroke-width="0.05">population</text>
<text x="391.6" y="132.4" font-family='"Liberation Sans",sans-serif' font-size="8.4" font-weight="bold" text-anchor="start" fill="#111">b)</text>
<g id="heat" shape-rendering="crispEdges">
<rect x="406.10" y="153.10" width="9.42" height="5.61" fill="#e6e0fd"/>
<rect x="415.47" y="153.10" width="9.42" height="5.61" fill="#ff8b66"/>
<rect x="424.84" y="153.10" width="9.42" height="5.61" fill="#e6e0fd"/>
<rect x="434.21" y="153.10" width="9.42" height="5.61" fill="#ff8b66"/>
<rect x="443.58" y="153.10" width="9.42" height="5.61" fill="#ffddd1"/>
<rect x="452.95" y="153.10" width="9.42" height="5.61" fill="#ff8b66"/>
<rect x="462.32" y="153.10" width="9.42" height="5.61" fill="#8f69f5"/>
<rect x="471.69" y="153.10" width="9.42" height="5.61" fill="#ffddd1"/>
<rect x="481.06" y="153.10" width="9.42" height="5.61" fill="#e6e0fd"/>
<rect x="490.43" y="153.10" width="9.42" height="5.61" fill="#ffddd1"/>
<rect x="406.10" y="158.66" width="9.42" height="5.61" fill="#ff8b66"/>
<rect x="415.47" y="158.66" width="9.42" height="5.61" fill="#e6e0fd"/>
<rect x="424.84" y="158.66" width="9.42" height="5.61" fill="#ff8b66"/>
<rect x="434.21" y="158.66" width="9.42" height="5.61" fill="#ffddd1"/>
<rect x="443.58" y="158.66" width="9.42" height="5.61" fill="#e6e0fd"/>
<rect x="452.95" y="158.66" width="9.42" height="5.61" fill="#ffddd1"/>
<rect x="462.32" y="158.66" width="9.42" height="5.61" fill="#8f69f5"/>
<rect x="471.69" y="158.66" width="9.42" height="5.61" fill="#e6e0fd"/>
<rect x="481.06" y="158.66" width="9.42" height="5.61" fill="#ffddd1"/>
<rect x="490.43" y="158.66" width="9.42" height="5.61" fill="#8f69f5"/>
<rect x="406.10" y="164.22" width="9.42" height="5.61" fill="#b9a3f6"/>
<rect x="415.47" y="164.22" width="9.42" height="5.61" fill="#e6e0fd"/>
<rect x="424.84" y="164.22" width="9.42" height="5.61" fill="#ff8b66"/>
<rect x="434.21" y="164.22" width="9.42" height="5.61" fill="#e6e0fd"/>
<rect x="443.58" y="164.22" width="9.42" height="5.61" fill="#ff8b66"/>
<rect x="452.95" y="164.22" width="9.42" height="5.61" fill="#e6e0fd"/>
<rect x="462.32" y="164.22" width="9.42" height="5.61" fill="#e6e0fd"/>
<rect x="471.69" y="164.22" width="9.42" height="5.61" fill="#8f69f5"/>
<rect x="481.06" y="164.22" width="9.42" height="5.61" fill="#e6e0fd"/>
<rect x="490.43" y="164.22" width="9.42" height="5.61" fill="#ff8b66"/>
<rect x="406.10" y="169.78" width="9.42" height="5.61" fill="#e6e0fd"/>
<rect x="415.47" y="169.78" width="9.42" height="5.61" fill="#b9a3f6"/>
<rect x="424.84" y="169.78" width="9.42" height="5.61" fill="#e6e0fd"/>
<rect x="434.21" y="169.78" width="9.42" height="5.61" fill="#8f69f5"/>
<rect x="443.58" y="169.78" width="9.42" height="5.61" fill="#ff8b66"/>
<rect x="452.95" y="169.78" width="9.42" height="5.61" fill="#e6e0fd"/>
<rect x="462.32" y="169.78" width="9.42" height="5.61" fill="#ff8b66"/>
<rect x="471.69" y="169.78" width="9.42" height="5.61" fill="#8f69f5"/>
<rect x="481.06" y="169.78" width="9.42" height="5.61" fill="#ff8b66"/>
<rect x="490.43" y="169.78" width="9.42" height="5.61" fill="#ffddd1"/>
<rect x="406.10" y="175.34" width="9.42" height="5.61" fill="#8f69f5"/>
<rect x="415.47" y="175.34" width="9.42" height="5.61" fill="#e6e0fd"/>
<rect x="424.84" y="175.34" width="9.42" height="5.61" fill="#e6e0fd"/>
<rect x="434.21" y="175.34" width="9.42" height="5.61" fill="#b9a3f6"/>
<rect x="443.58" y="175.34" width="9.42" height="5.61" fill="#e6e0fd"/>
<rect x="452.95" y="175.34" width="9.42" height="5.61" fill="#b9a3f6"/>
<rect x="462.32" y="175.34" width="9.42" height="5.61" fill="#e6e0fd"/>
<rect x="471.69" y="175.34" width="9.42" height="5.61" fill="#ff8b66"/>
<rect x="481.06" y="175.34" width="9.42" height="5.61" fill="#ffddd1"/>
<rect x="490.43" y="175.34" width="9.42" height="5.61" fill="#ff8b66"/>
<rect x="406.10" y="180.90" width="9.42" height="5.61" fill="#b9a3f6"/>
<rect x="415.47" y="180.90" width="9.42" height="5.61" fill="#ff8b66"/>
<rect x="424.84" y="180.90" width="9.42" height="5.61" fill="#8f69f5"/>
<rect x="434.21" y="180.90" width="9.42" height="5.61" fill="#e6e0fd"/>
<rect x="443.58" y="180.90" width="9.42" height="5.61" fill="#ff8b66"/>
<rect x="452.95" y="180.90" width="9.42" height="5.61" fill="#e6e0fd"/>
<rect x="462.32" y="180.90" width="9.42" height="5.61" fill="#e6e0fd"/>
<rect x="471.69" y="180.90" width="9.42" height="5.61" fill="#e6e0fd"/>
<rect x="481.06" y="180.90" width="9.42" height="5.61" fill="#ffddd1"/>
<rect x="490.43" y="180.90" width="9.42" height="5.61" fill="#e6e0fd"/>
<rect x="406.10" y="186.46" width="9.42" height="5.61" fill="#8f69f5"/>
<rect x="415.47" y="186.46" width="9.42" height="5.61" fill="#b9a3f6"/>
<rect x="424.84" y="186.46" width="9.42" height="5.61" fill="#e6e0fd"/>
<rect x="434.21" y="186.46" width="9.42" height="5.61" fill="#b9a3f6"/>
<rect x="443.58" y="186.46" width="9.42" height="5.61" fill="#b9a3f6"/>
<rect x="452.95" y="186.46" width="9.42" height="5.61" fill="#ff8b66"/>
<rect x="462.32" y="186.46" width="9.42" height="5.61" fill="#b9a3f6"/>
<rect x="471.69" y="186.46" width="9.42" height="5.61" fill="#ff8b66"/>
<rect x="481.06" y="186.46" width="9.42" height="5.61" fill="#8f69f5"/>
<rect x="490.43" y="186.46" width="9.42" height="5.61" fill="#e6e0fd"/>
<rect x="406.10" y="192.02" width="9.42" height="5.61" fill="#b9a3f6"/>
<rect x="415.47" y="192.02" width="9.42" height="5.61" fill="#ff8b66"/>
<rect x="424.84" y="192.02" width="9.42" height="5.61" fill="#ff8b66"/>
<rect x="434.21" y="192.02" width="9.42" height="5.61" fill="#e6e0fd"/>
<rect x="443.58" y="192.02" width="9.42" height="5.61" fill="#b9a3f6"/>
<rect x="452.95" y="192.02" width="9.42" height="5.61" fill="#e6e0fd"/>
<rect x="462.32" y="192.02" width="9.42" height="5.61" fill="#e6e0fd"/>
<rect x="471.69" y="192.02" width="9.42" height="5.61" fill="#b9a3f6"/>
<rect x="481.06" y="192.02" width="9.42" height="5.61" fill="#e6e0fd"/>
<rect x="490.43" y="192.02" width="9.42" height="5.61" fill="#ff8b66"/>
<rect x="406.10" y="197.58" width="9.42" height="5.61" fill="#8f69f5"/>
<rect x="415.47" y="197.58" width="9.42" height="5.61" fill="#b9a3f6"/>
<rect x="424.84" y="197.58" width="9.42" height="5.61" fill="#b9a3f6"/>
<rect x="434.21" y="197.58" width="9.42" height="5.61" fill="#8f69f5"/>
<rect x="443.58" y="197.58" width="9.42" height="5.61" fill="#b9a3f6"/>
<rect x="452.95" y="197.58" width="9.42" height="5.61" fill="#8f69f5"/>
<rect x="462.32" y="197.58" width="9.42" height="5.61" fill="#ff8b66"/>
<rect x="471.69" y="197.58" width="9.42" height="5.61" fill="#e6e0fd"/>
<rect x="481.06" y="197.58" width="9.42" height="5.61" fill="#b9a3f6"/>
<rect x="490.43" y="197.58" width="9.42" height="5.61" fill="#e6e0fd"/>
<rect x="406.10" y="203.14" width="9.42" height="5.61" fill="#ff8b66"/>
<rect x="415.47" y="203.14" width="9.42" height="5.61" fill="#8f69f5"/>
<rect x="424.84" y="203.14" width="9.42" height="5.61" fill="#ff8b66"/>
<rect x="434.21" y="203.14" width="9.42" height="5.61" fill="#b9a3f6"/>
<rect x="443.58" y="203.14" width="9.42" height="5.61" fill="#8f69f5"/>
<rect x="452.95" y="203.14" width="9.42" height="5.61" fill="#b9a3f6"/>
<rect x="462.32" y="203.14" width="9.42" height="5.61" fill="#8f69f5"/>
<rect x="471.69" y="203.14" width="9.42" height="5.61" fill="#b9a3f6"/>
<rect x="481.06" y="203.14" width="9.42" height="5.61" fill="#8f69f5"/>
<rect x="490.43" y="203.14" width="9.42" height="5.61" fill="#b9a3f6"/>
</g>
<path fill="none" stroke="#444" stroke-width="0.6" d="M406.2 153V137.6H420.3V148 M415.4 153V148H425.3V153 M413.2 137.6V135.7H450V139.4 M434.3 153V148.4H443.7V153 M439.6 148.4V139.4H459.2V146.9 M451.5 153V146.9H467.2V148.6 M462.8 153V148.6H471.7V153 M429.5 135.7V133.7H488.3V142.4 M481.3 153V142.4H494.8V148.4 M490.3 153V148.4H499.6V153"/>
<path d="M404.5 153.6V210.2 M406 210.8H500 M404.5 155.38H402.6 M404.5 160.94H402.6 M404.5 166.50H402.6 M404.5 172.06H402.6 M404.5 177.62H402.6 M404.5 183.18H402.6 M404.5 188.74H402.6 M404.5 194.30H402.6 M404.5 199.86H402.6 M404.5 205.42H402.6 M406.10 210.8V213 M415.47 210.8V213 M424.84 210.8V213 M434.21 210.8V213 M443.58 210.8V213 M452.95 210.8V213 M462.32 210.8V213 M471.69 210.8V213 M481.06 210.8V213 M490.43 210.8V213 M499.80 210.8V213" fill="none" stroke="#444" stroke-width="0.6"/>
<text x="406.1" y="217.5" font-family='"Liberation Sans",sans-serif' font-size="3.4" font-weight="normal" text-anchor="middle" fill="#333">0</text>
<text x="424.84000000000003" y="217.5" font-family='"Liberation Sans",sans-serif' font-size="3.4" font-weight="normal" text-anchor="middle" fill="#333">10</text>
<text x="443.58000000000004" y="217.5" font-family='"Liberation Sans",sans-serif' font-size="3.4" font-weight="normal" text-anchor="middle" fill="#333">20</text>
<text x="462.32000000000005" y="217.5" font-family='"Liberation Sans",sans-serif' font-size="3.4" font-weight="normal" text-anchor="middle" fill="#333">30</text>
<text x="481.06" y="217.5" font-family='"Liberation Sans",sans-serif' font-size="3.4" font-weight="normal" text-anchor="middle" fill="#333">40</text>
<text x="499.8" y="217.5" font-family='"Liberation Sans",sans-serif' font-size="3.4" font-weight="normal" text-anchor="middle" fill="#333">50</text>
<text x="391.4" y="240.4" font-family='"Liberation Sans",sans-serif' font-size="8.4" font-weight="bold" text-anchor="start" fill="#111">c)</text>
<path d="M402.4 254V333.6 M404.2 335.5H490.5 M402.4 254.3H399.6 M402.4 293.8H400.4 M402.4 333H400.4 M404.5 335.5V338 M446.2 335.5V338 M488 335.5V338" fill="none" stroke="#444" stroke-width="0.7"/>
<text x="398" y="255.6" font-family='"Liberation Sans",sans-serif' font-size="3.6" font-weight="normal" text-anchor="end" fill="#222">10</text>
<text x="398.6" y="334" font-family='"Liberation Sans",sans-serif' font-size="3.6" font-weight="normal" text-anchor="end" fill="#222">-10</text>
<text x="404.2" y="342.5" font-family='"Liberation Sans",sans-serif' font-size="3.6" font-weight="normal" text-anchor="middle" fill="#222">-10</text>
<text x="488" y="342.5" font-family='"Liberation Sans",sans-serif' font-size="3.6" font-weight="normal" text-anchor="middle" fill="#222">10</text>
<text x="444.6" y="349.9" font-family='"Liberation Sans",sans-serif' font-size="4.6" font-weight="bold" text-anchor="middle" fill="#222" textLength="20" lengthAdjust="spacingAndGlyphs">UMAP - 1</text>
<text transform="translate(394.4 294.3) rotate(-90)" font-family='"Liberation Sans",sans-serif' font-size="4.6" font-weight="bold" text-anchor="middle" fill="#222" textLength="20" lengthAdjust="spacingAndGlyphs">UMAP - 2</text>
<rect x="494.7" y="268" width="4.9" height="38.7" fill="url(#cb)"/>
<path d="M494.7 278.2H499.6 M494.7 293.5H499.6" stroke="#fff" stroke-opacity="0.7" stroke-width="0.4"/>
<text x="494.6" y="266.3" font-family='"Liberation Sans",sans-serif' font-size="2.9" font-weight="normal" text-anchor="start" fill="#111" textLength="15" lengthAdjust="spacingAndGlyphs" stroke="#111" stroke-width="0.08">Methylation</text>
<text x="501.3" y="279.1" font-family='"Liberation Sans",sans-serif' font-size="2.9" font-weight="normal" text-anchor="start" fill="#222">1</text>
<text x="501.3" y="294.5" font-family='"Liberation Sans",sans-serif' font-size="2.9" font-weight="normal" text-anchor="start" fill="#222">0.5</text>
<text x="501.3" y="306.1" font-family='"Liberation Sans",sans-serif' font-size="2.9" font-weight="normal" text-anchor="start" fill="#222">0</text>
<path d="M418.4 273.0h0M416.2 275.5h0M420.1 276.6h0M417.2 273.2h0M422.1 277.6h0M420.8 280.7h0M421.7 278.3h0M420.5 276.2h0M417.2 275.4h0M416.1 275.9h0M417.7 276.3h0M418.8 276.6h0M419.2 277.3h0M420.0 275.0h0M415.9 276.7h0M421.6 276.9h0M420.5 276.9h0M421.5 275.2h0M418.8 276.4h0M418.1 274.1h0M415.3 274.4h0M419.1 278.3h0M419.4 275.0h0M418.1 276.1h0M415.4 270.8h0M419.0 277.4h0M421.4 276.3h0M419.9 276.0h0M420.8 276.1h0M418.6 278.1h0M424.1 278.5h0M422.6 276.4h0M419.2 277.6h0M421.2 277.2h0M420.0 278.4h0M418.2 277.5h0M418.0 275.4h0M419.8 276.5h0M415.0 273.7h0M421.5 275.4h0M418.8 273.8h0M417.0 274.7h0M420.6 278.2h0M419.5 277.5h0M416.4 274.9h0M417.5 274.1h0M417.8 275.8h0M417.7 276.5h0M418.2 273.8h0M415.5 273.7h0M417.2 274.5h0M421.5 279.2h0M419.2 277.0h0M422.3 276.9h0M416.7 274.2h0" fill="none" stroke="#f48a3a" stroke-width="1.1" stroke-linecap="round"/>
<path d="M429.6 282.2h0M423.8 277.0h0M426.5 282.6h0M426.0 280.3h0M423.7 281.2h0M431.0 282.0h0M425.5 280.3h0M421.1 278.8h0M426.2 278.8h0M426.4 280.7h0M425.6 280.8h0M429.1 281.8h0M429.4 280.0h0M429.0 279.8h0M428.1 279.3h0M423.3 277.0h0M424.1 279.8h0M426.5 282.1h0M426.8 277.8h0M423.0 278.8h0M426.6 281.3h0M424.3 278.8h0M428.5 284.9h0M426.4 279.0h0M424.1 280.0h0M426.2 281.4h0M427.7 279.5h0M423.5 276.9h0M429.6 284.1h0M421.9 277.8h0M424.2 278.8h0M426.7 279.5h0M424.7 278.3h0M428.7 281.4h0M423.1 278.6h0M431.3 282.6h0M422.1 281.0h0M424.0 280.8h0M428.8 280.8h0M424.4 279.3h0M426.7 280.1h0M426.0 279.9h0M427.7 278.6h0M429.1 279.8h0M426.0 282.0h0M425.6 280.4h0M429.8 283.2h0M424.4 279.7h0M429.1 284.1h0M426.9 280.1h0M423.4 279.1h0M424.8 280.1h0M429.0 279.9h0M429.6 283.9h0M422.4 278.4h0M427.8 280.6h0M425.2 279.9h0M421.7 279.0h0M427.6 281.8h0M423.5 280.0h0" fill="none" stroke="#d6347e" stroke-width="1.1" stroke-linecap="round"/>
<path d="M427.0 281.1h0M427.2 281.5h0M424.8 282.0h0M425.5 279.2h0M427.2 279.6h0M426.7 280.5h0M425.9 280.3h0M425.3 278.3h0M427.2 278.4h0M425.3 278.8h0M425.6 279.3h0M427.7 280.2h0M425.1 278.0h0M425.7 279.7h0" fill="none" stroke="#ee7a45" stroke-width="1.0" stroke-linecap="round"/>
<path d="M432.1 278.4h0M436.6 277.0h0M430.4 279.1h0M433.3 278.6h0M438.4 276.0h0M430.9 278.0h0M435.9 276.6h0M430.8 278.5h0M434.6 278.6h0M435.1 276.5h0M438.5 276.2h0M437.6 276.5h0M440.0 275.8h0M433.1 278.5h0M436.8 277.7h0M433.9 278.7h0M437.3 276.7h0M441.4 273.9h0M438.1 277.8h0M441.3 274.7h0M438.2 277.6h0M436.4 277.5h0M439.7 275.8h0M438.6 276.2h0M433.5 277.2h0M430.4 279.2h0M437.4 277.6h0M438.6 275.0h0M434.2 278.7h0M430.6 280.0h0M436.9 277.2h0M439.0 277.1h0M439.4 276.0h0M435.4 276.9h0M435.3 276.4h0" fill="none" stroke="#e0506c" stroke-width="1.0" stroke-linecap="round"/>
<path d="M443.5 273.4h0M442.8 273.9h0M450.3 267.8h0M442.8 273.2h0M442.8 273.8h0M450.5 267.8h0M448.9 269.4h0M446.8 269.3h0M450.1 268.9h0M447.1 269.8h0M446.3 271.8h0M449.2 268.6h0M449.3 268.1h0M448.9 268.8h0M446.4 270.4h0M443.9 272.5h0M441.2 274.4h0M445.7 270.9h0M451.1 268.4h0M442.7 273.2h0M444.4 271.9h0M446.4 270.5h0M441.7 275.2h0M446.8 270.5h0M442.6 273.6h0M448.5 269.1h0M448.2 269.4h0M444.4 272.6h0M445.4 271.6h0M448.9 269.3h0" fill="none" stroke="#f58b35" stroke-width="1.0" stroke-linecap="round"/>
<path d="M453.5 266.4h0M454.7 265.7h0M450.4 268.1h0M453.7 266.8h0M452.9 267.6h0M453.5 267.0h0M452.6 267.3h0M451.7 267.6h0M453.5 267.0h0M454.5 266.7h0M455.1 266.2h0M454.4 266.3h0" fill="none" stroke="#f2df2a" stroke-width="1.0" stroke-linecap="round"/>
<path d="M429.4 288.5h0M429.7 291.3h0M430.4 286.3h0M430.3 288.2h0M433.7 297.9h0M437.4 302.1h0M435.5 295.2h0M431.1 288.7h0M429.7 287.3h0M434.3 297.0h0M435.5 292.5h0M432.6 282.1h0M434.1 295.1h0M429.0 286.8h0M428.0 280.1h0M429.9 280.3h0M433.5 297.8h0M430.5 288.3h0M429.6 283.5h0M430.1 290.8h0M432.7 294.3h0M436.1 289.8h0M434.7 291.9h0M430.1 284.3h0M425.4 279.0h0M427.6 279.6h0M436.9 297.3h0M430.7 286.7h0M433.7 290.6h0M429.2 284.9h0M432.1 287.8h0M430.1 282.9h0M436.3 292.3h0M429.8 285.8h0M430.9 285.3h0M436.5 300.2h0M435.2 297.2h0M428.1 282.0h0M436.9 298.4h0M428.1 284.0h0M435.1 287.1h0M428.4 287.3h0M430.4 288.9h0M435.1 291.8h0M433.9 291.7h0M433.4 286.9h0M428.3 284.0h0M433.0 295.3h0M427.2 286.8h0M434.2 294.8h0M437.8 294.1h0M427.9 281.6h0M437.0 296.5h0M434.9 287.4h0M432.0 290.8h0M434.3 297.0h0M434.2 295.4h0M431.5 294.5h0M435.8 294.2h0M431.6 281.0h0M439.9 293.9h0M430.8 287.2h0M438.8 298.1h0M430.9 288.1h0M430.6 285.6h0M430.5 285.0h0M435.7 293.1h0M438.1 297.4h0M433.3 290.5h0M429.9 283.4h0M428.9 283.1h0M434.5 299.6h0M430.8 293.9h0M439.3 293.2h0M430.1 286.4h0" fill="none" stroke="#a02bb0" stroke-width="1.0" stroke-linecap="round"/>
<path d="M435.4 292.7h0M432.7 287.0h0M432.5 288.6h0M434.4 295.6h0M433.1 293.8h0M434.5 293.9h0M434.8 296.1h0M434.6 291.7h0M430.6 282.8h0M432.9 289.8h0M432.9 294.6h0M433.8 292.9h0M434.0 287.3h0M431.7 288.9h0M435.2 294.0h0M430.9 287.7h0M435.3 292.5h0M434.1 291.6h0M431.8 288.9h0M430.8 287.6h0M436.1 292.9h0M428.2 285.9h0M433.2 292.7h0M435.3 292.2h0M428.0 285.1h0M432.8 288.7h0M437.7 295.2h0M433.6 295.8h0M433.6 293.8h0M433.8 293.1h0M434.4 294.6h0M434.9 294.0h0M429.2 284.6h0M428.5 287.7h0M429.0 288.2h0M433.3 292.9h0M433.2 290.7h0M431.6 286.6h0M436.4 291.7h0M431.0 287.9h0M429.9 289.0h0M436.0 295.8h0M432.6 289.6h0M436.1 294.8h0M433.8 287.5h0M430.7 286.9h0M431.7 292.5h0M433.7 294.2h0M429.5 285.3h0M433.1 291.4h0M434.0 292.1h0M431.3 292.6h0M433.4 291.2h0M436.6 295.2h0M437.8 294.0h0M431.6 287.6h0M432.6 284.5h0M432.5 288.1h0M431.0 286.8h0M435.9 293.9h0M438.0 296.9h0M432.3 287.0h0M436.4 295.6h0M434.1 293.1h0M430.0 284.9h0M431.6 284.1h0M435.8 294.9h0M429.7 284.0h0M431.7 291.0h0M431.0 285.1h0M428.9 283.8h0M432.0 288.5h0M432.0 289.5h0M434.2 290.3h0M430.0 286.5h0M433.5 289.6h0M430.0 287.0h0M429.1 291.7h0M432.1 289.2h0M434.1 291.0h0M434.6 292.2h0M433.3 292.0h0M429.6 283.5h0M435.1 293.5h0M427.6 283.4h0M428.4 285.5h0M429.4 287.8h0M436.3 296.3h0M432.6 287.2h0M431.3 283.2h0M433.7 290.8h0M430.5 287.6h0M435.8 292.7h0M430.0 285.9h0M434.7 290.1h0M433.4 291.0h0M429.7 284.6h0M433.8 290.3h0M431.9 282.5h0M432.4 289.0h0M430.6 285.4h0M429.5 283.1h0M433.2 291.9h0M433.4 291.9h0M430.6 287.8h0M432.7 291.9h0M430.8 284.8h0M432.8 288.0h0M436.6 294.6h0M429.0 284.4h0M433.7 294.4h0M432.8 294.5h0M437.2 297.4h0M436.1 294.0h0M431.7 287.7h0M435.3 294.8h0M432.7 288.4h0M435.1 293.4h0M433.6 290.4h0M432.4 294.1h0" fill="none" stroke="#5a30c4" stroke-width="1.2" stroke-linecap="round"/>
<path d="M435.2 294.7h0M435.8 293.6h0M436.5 294.6h0M432.4 290.6h0M434.8 296.8h0M435.5 294.4h0M436.1 296.0h0M435.5 291.1h0M433.3 291.1h0M435.8 296.9h0M432.2 289.5h0M432.8 292.4h0M434.0 295.7h0M432.9 289.6h0M435.3 296.2h0M434.3 292.5h0M434.0 292.3h0M432.3 292.7h0M437.2 296.5h0M432.4 287.2h0M434.6 293.7h0M432.0 289.6h0M432.9 289.3h0M436.0 293.8h0M435.6 294.6h0M433.5 292.2h0M430.7 288.4h0M435.0 294.7h0M432.3 291.3h0M432.6 288.9h0M432.6 290.8h0M433.3 290.5h0M433.0 288.9h0M435.6 292.0h0M435.0 291.7h0M433.8 292.9h0M435.4 296.0h0M430.1 288.1h0M433.9 290.2h0M433.1 291.2h0M436.4 295.6h0M433.3 290.6h0M433.8 292.8h0M432.8 287.8h0M432.3 290.8h0" fill="none" stroke="#4340c8" stroke-width="1.1" stroke-linecap="round"/>
<path d="M426.2 303.4h0M421.8 296.8h0M422.9 296.9h0M426.9 302.8h0M426.4 301.6h0M421.4 296.8h0M424.8 306.2h0M424.1 295.7h0M424.9 299.4h0M432.3 303.8h0M428.0 305.4h0M424.4 297.5h0M428.8 304.5h0M427.3 303.9h0M430.7 300.9h0M425.1 302.8h0M429.4 307.7h0M421.2 299.4h0M423.4 298.6h0M430.2 301.8h0M430.9 303.3h0M427.2 302.6h0M433.4 300.8h0M432.4 305.0h0M432.8 303.7h0M422.7 302.4h0M422.1 296.6h0M426.4 299.0h0M423.7 299.8h0M433.5 301.8h0M430.4 301.1h0M431.5 302.8h0M428.2 299.1h0M424.4 299.6h0M422.0 300.1h0M426.2 300.4h0M421.3 300.4h0M427.9 303.4h0M433.5 305.1h0M433.2 300.2h0M424.9 302.7h0M430.0 304.0h0M425.0 300.8h0M424.3 296.9h0M423.3 298.0h0M431.1 300.3h0M423.5 301.5h0M426.8 293.7h0M426.0 302.8h0M422.8 298.8h0M431.6 301.9h0M431.6 299.6h0M430.0 303.5h0M434.5 297.3h0M423.8 301.1h0M428.0 301.8h0M425.4 304.5h0M434.7 296.8h0M431.3 300.5h0M427.3 303.3h0M422.9 297.8h0M432.0 303.1h0M436.7 299.6h0M425.3 303.2h0M424.8 301.6h0M433.1 298.9h0M430.0 303.2h0M432.4 302.4h0M429.7 302.9h0M429.6 304.8h0M431.4 300.5h0M432.4 298.8h0M425.9 301.1h0M433.2 304.4h0M432.0 298.0h0M428.3 303.4h0M431.5 297.8h0M429.2 301.4h0M431.7 302.9h0M424.8 303.1h0M423.7 300.8h0M431.0 301.8h0M430.1 302.4h0M430.2 300.2h0M429.5 303.3h0M427.1 299.1h0M421.3 299.3h0M427.2 305.1h0M428.3 302.5h0M428.3 304.7h0M428.8 302.3h0M432.4 301.6h0M427.1 303.6h0M428.2 304.2h0M429.4 301.8h0M433.1 300.4h0M431.3 302.2h0M425.1 299.6h0M423.4 297.9h0M430.8 300.4h0M423.3 296.1h0M427.1 295.4h0M425.9 299.2h0M430.3 302.6h0M422.0 299.5h0M425.4 303.0h0M432.6 303.4h0M427.8 302.7h0M428.7 303.7h0M433.9 294.8h0" fill="none" stroke="#c42a7c" stroke-width="1.1" stroke-linecap="round"/>
<path d="M429.3 292.7h0M425.3 293.4h0M430.0 296.5h0M426.3 294.7h0M426.7 298.4h0M429.2 299.8h0M423.4 292.5h0M422.9 293.6h0M433.9 298.6h0M431.8 295.8h0M424.0 294.6h0M435.6 299.0h0M431.9 296.5h0M428.4 296.5h0M427.3 295.3h0M431.9 295.8h0M430.1 295.6h0M425.7 298.1h0M422.5 294.3h0M429.8 297.6h0M432.4 298.0h0M431.9 296.3h0M421.6 293.7h0M427.1 297.9h0M430.4 297.0h0M434.1 296.8h0M428.0 294.8h0M432.5 296.0h0M426.8 296.8h0M424.1 295.9h0M429.6 296.1h0M433.2 296.4h0M435.1 298.2h0M431.2 295.5h0M424.2 296.2h0M423.4 295.2h0M422.9 297.5h0M426.3 296.9h0M426.9 295.9h0M433.6 295.9h0M426.0 296.8h0M421.8 293.2h0M427.8 295.0h0M430.4 295.4h0M425.8 299.9h0" fill="none" stroke="#b0268c" stroke-width="1.1" stroke-linecap="round"/>
<path d="M439.3 297.6h0M444.8 300.3h0M447.6 303.2h0M439.3 299.2h0M438.5 297.1h0M439.9 298.0h0M441.8 297.6h0M437.0 302.4h0M435.6 296.2h0M442.0 301.6h0M439.5 296.1h0M442.8 299.6h0M445.4 300.8h0M444.1 299.5h0M445.4 301.9h0M447.5 302.5h0M436.2 295.0h0M447.5 299.2h0M439.3 299.3h0M444.8 300.4h0M441.3 297.8h0M440.2 298.0h0M437.6 298.7h0M446.0 299.7h0M441.6 300.5h0M447.5 303.5h0M442.0 298.3h0M440.6 299.8h0M437.1 298.8h0M439.5 297.9h0M437.7 297.7h0M439.9 301.2h0M440.4 294.5h0M437.6 297.3h0M437.9 297.3h0M440.0 298.3h0M446.0 303.4h0M439.0 296.5h0M446.0 300.5h0M446.0 301.1h0M440.9 299.3h0M439.2 299.0h0M442.2 299.9h0M443.6 298.0h0M439.6 299.3h0M437.5 298.0h0M443.4 297.7h0M435.1 298.4h0M439.7 296.8h0M441.3 297.8h0M435.9 297.4h0M445.4 299.6h0M445.9 296.9h0M447.0 302.2h0M443.6 298.8h0M447.5 299.2h0M445.6 298.6h0M439.9 297.2h0M443.1 297.6h0M438.9 300.3h0M443.8 296.9h0M445.0 297.8h0M438.4 299.2h0M442.5 297.9h0M436.6 296.0h0M442.9 300.6h0M438.3 300.8h0M441.0 302.2h0M437.9 301.7h0M444.7 298.9h0M442.5 298.5h0M440.6 295.6h0M438.7 296.1h0M449.4 299.6h0M435.6 296.0h0M433.8 298.1h0M446.6 300.3h0M444.3 297.5h0M443.0 299.1h0M444.6 299.1h0M446.2 297.9h0M442.1 300.5h0M439.1 300.0h0M437.0 296.0h0M437.7 299.2h0M440.9 297.9h0M438.2 298.8h0M444.7 300.2h0M441.9 296.1h0M440.7 302.0h0M442.1 300.1h0M450.0 300.7h0M436.7 298.9h0M437.9 297.1h0M443.9 299.4h0" fill="none" stroke="#d63c78" stroke-width="1.1" stroke-linecap="round"/>
<path d="M437.4 300.2h0M436.4 301.8h0M439.0 304.4h0M438.2 300.7h0M441.4 302.5h0M439.4 309.7h0M439.3 305.9h0M442.8 303.6h0M438.4 302.0h0M439.6 311.5h0M438.9 303.4h0M438.7 306.5h0M434.0 301.5h0M437.0 299.0h0M438.8 303.9h0M438.3 304.8h0M437.1 298.7h0M439.0 307.2h0M439.2 307.1h0M438.4 301.8h0M439.6 305.3h0M437.4 305.9h0M439.0 305.3h0M440.8 310.8h0M436.5 308.3h0M437.1 302.2h0M439.4 302.5h0M440.1 301.7h0M440.0 301.0h0M436.3 299.7h0M437.9 298.9h0M437.7 303.4h0M442.5 305.6h0M438.6 307.6h0M439.2 305.5h0M440.4 307.2h0M439.1 297.3h0M440.1 306.9h0M442.4 306.1h0M442.3 306.1h0M439.3 309.0h0M438.8 304.6h0M437.2 303.3h0M436.3 302.6h0M439.0 306.7h0" fill="none" stroke="#c8307c" stroke-width="1.0" stroke-linecap="round"/>
<path d="M450.2 300.9h0M455.2 298.4h0M455.4 298.8h0M453.0 300.1h0M450.9 299.8h0M447.6 300.7h0M452.3 299.8h0M451.8 300.1h0M446.6 301.7h0M452.4 299.4h0M448.9 301.1h0M454.2 300.8h0M455.0 298.6h0M452.0 300.7h0M455.4 299.0h0M445.2 299.0h0M448.5 300.2h0M451.8 300.3h0M452.0 299.9h0M449.7 300.0h0M452.3 301.4h0M456.0 298.2h0M452.4 300.6h0M455.5 297.5h0M453.4 299.0h0M452.9 300.1h0M450.8 298.4h0M445.6 301.9h0M450.6 300.3h0M454.7 297.5h0M452.8 299.7h0M447.2 300.5h0M446.5 299.7h0M455.2 299.1h0M451.7 298.7h0M448.4 299.1h0M449.4 300.0h0M450.4 299.6h0M453.3 301.4h0M451.4 301.2h0M450.8 299.1h0M452.2 299.9h0M446.9 301.2h0M454.4 298.2h0M451.8 300.5h0M451.3 299.8h0M450.0 298.7h0M450.3 299.9h0M453.0 297.0h0M451.2 300.7h0M451.9 301.7h0M447.0 299.3h0M446.7 301.1h0M450.9 300.6h0M452.1 300.0h0M457.9 298.5h0M452.8 297.8h0M451.6 300.1h0M451.2 299.4h0M452.7 298.6h0M451.4 299.7h0M453.5 300.2h0M450.3 299.8h0M453.4 297.0h0M455.4 298.6h0" fill="none" stroke="#f58232" stroke-width="1.1" stroke-linecap="round"/>
<path d="M459.6 292.1h0M457.2 294.3h0M461.3 291.7h0M458.0 295.3h0M465.4 288.8h0M460.2 291.9h0M460.5 291.3h0M461.7 291.8h0M465.0 288.5h0M455.7 296.6h0M463.7 289.4h0M463.2 289.9h0M459.5 293.3h0M463.1 290.0h0M459.3 293.4h0M462.3 289.4h0M463.4 290.2h0M458.2 293.5h0M462.5 290.4h0M463.1 289.8h0M458.8 293.7h0M460.8 291.7h0M459.5 293.5h0M462.8 289.3h0M458.1 293.9h0M461.4 291.1h0M455.1 296.5h0M459.0 292.9h0M456.1 294.6h0M459.6 292.2h0M458.9 292.7h0M458.3 292.9h0M459.7 293.0h0M464.1 288.8h0M454.9 296.9h0" fill="none" stroke="#f0761f" stroke-width="1.0" stroke-linecap="round"/>
<path d="M438.3 310.6h0M439.5 306.2h0M439.2 307.6h0M437.8 312.8h0M438.9 306.3h0M438.3 317.9h0M439.1 304.8h0M438.8 310.0h0M439.7 304.7h0M440.2 305.3h0M439.0 305.8h0M438.7 308.5h0M438.3 314.5h0M437.5 316.5h0M438.0 313.0h0M439.2 303.4h0M437.3 318.3h0M438.6 308.9h0M439.2 306.1h0M438.7 311.3h0M439.5 304.0h0M438.6 312.2h0M438.8 309.7h0M438.7 312.8h0M439.3 304.9h0" fill="none" stroke="#a02a6a" stroke-width="0.9" stroke-linecap="round"/>
<path d="M452.6 303.1h0M457.1 306.6h0M452.1 303.8h0M451.6 303.0h0M452.4 304.1h0M455.6 305.3h0M452.5 302.6h0M456.9 305.5h0M457.7 306.5h0M456.3 306.4h0M454.6 305.2h0M453.9 304.6h0M457.1 305.1h0M455.2 305.4h0M451.8 302.7h0" fill="none" stroke="#e07a3a" stroke-width="0.9" stroke-linecap="round"/>
<path fill="none" stroke-linecap="round" stroke-linejoin="round" stroke="#45403a" stroke-width="0.85" d="M410 260.8 C412.5 260.6 415 261.6 416.8 263 M413.1 261.6 C412.4 263.6 412.2 265.6 412.3 267.5 M423 264.1 C424.2 268.5 425.8 272.6 427.7 276.5 M427.1 275.1 C428.2 273 429.4 271.4 431.1 270.3 M433.6 282 C436 283.5 438 284.2 440.4 284 M410.4 299.8 C409.2 301.5 408.8 303.5 409 305.6 M430 305 C429.4 306 429.3 306.8 429.4 307.6 M439.4 304 C439 310 438.5 315 437.4 320 C435.5 324 432.5 326.5 429.4 328.4 M452.3 301.5 C457 304.5 461.5 307.8 466 309.7 C470 310.8 475 311 478.8 311.2 M476.4 297.9 C475.4 300 473.8 301.8 472 302.8 M466.5 284.2 C464.6 282 463 280 462.3 277.8 C461.4 275.2 461.2 272.8 461.4 270.5 M466.5 284.2 C467.4 281 468 278 468.4 275.1 C469.2 271.8 469.8 268.4 470.2 265 M467.8 283.8 C470.2 282.6 472.8 281.2 475.1 279.6 C478.2 277.2 481 274.4 483.3 271.4 M475.1 265 C476 266.8 476.5 268.6 476.4 270.5"/>
<path fill="none" stroke-linecap="round" stroke-linejoin="round" stroke="#5a3540" stroke-opacity="0.7" stroke-width="0.8" d="M427.7 276.5 C430 280 432 279.3 435 278.2 C439 276.6 443 273.6 447 270 M428.5 281 C430 286 433 291 436 296.5 C440 299 445 301 450.5 300.8"/>
<path fill="none" stroke-linecap="round" stroke-linejoin="round" stroke="#e8892c" stroke-width="0.9" d="M447 270 C449 268.5 451 267.6 452.5 267.2 M452.3 301.5 C455 303.2 458 305 460 306.3 M454.1 297.9 C457 295 460 291.6 463.2 288.8"/>
<path fill="none" stroke-linecap="round" stroke-linejoin="round" stroke="#e6d42c" stroke-width="0.9" d="M452.5 267.2 C453.5 266.8 454.3 266.5 455.2 266.2 M463.2 288.8 C464.6 287.2 465.8 285.6 466.5 284.2 C467.4 281 468 278 468.4 275.1 M466.5 284.2 C465.4 283 464.6 282 464 281 M467.8 283.8 C470.2 282.6 472.8 281.2 475.1 279.6"/>
<path fill="none" stroke-linecap="round" stroke-linejoin="round" stroke="#8a2a5a" stroke-width="0.9" d="M439.4 304 C439.1 308 438.8 312 438.2 316"/>
</svg></body></html>
